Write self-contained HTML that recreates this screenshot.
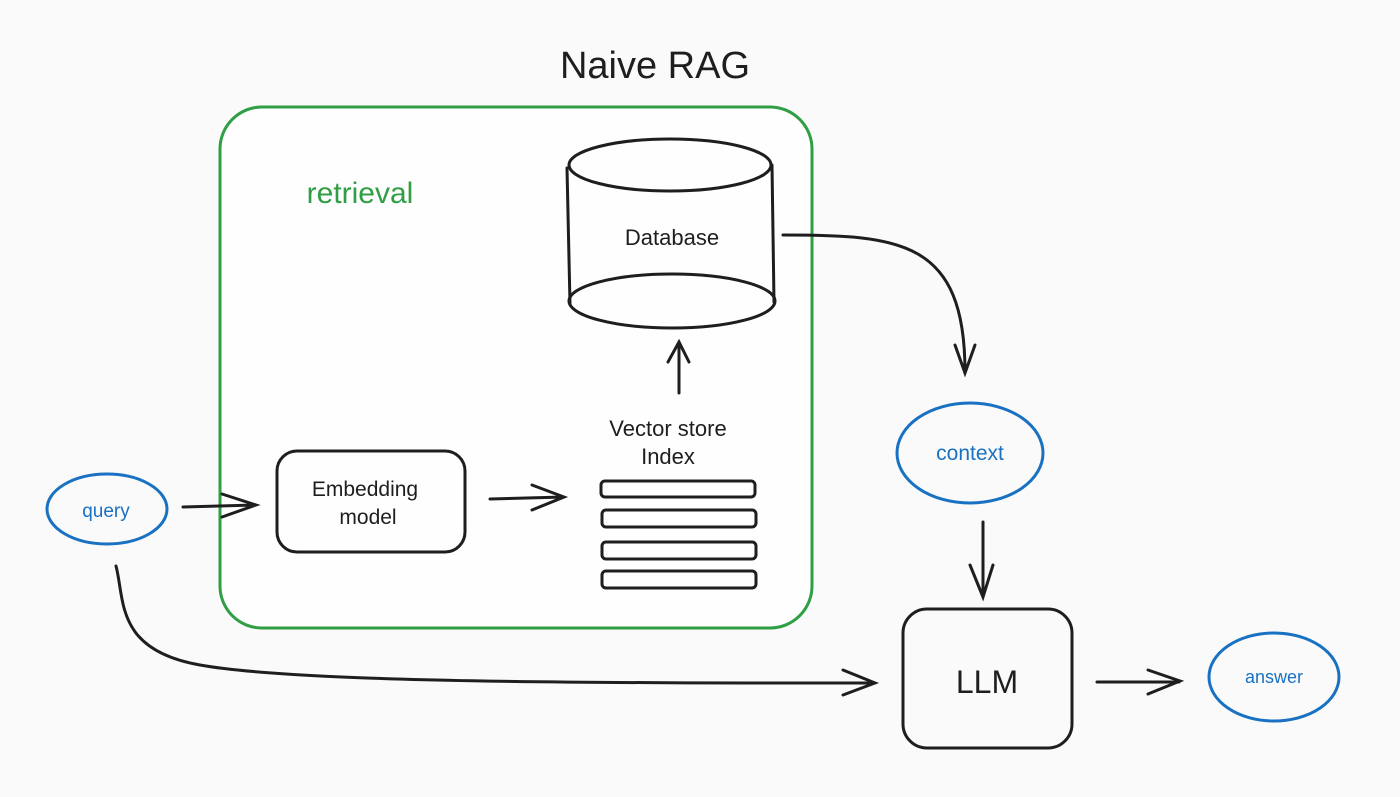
<!DOCTYPE html>
<html><head><meta charset="utf-8"><style>
html,body{margin:0;padding:0;background:#fafafa;}
svg{display:block;}
text{font-family:"Liberation Sans","DejaVu Sans",sans-serif;}
</style></head><body>
<svg width="1400" height="797" viewBox="0 0 1400 797" xmlns="http://www.w3.org/2000/svg">
<rect width="1400" height="797" fill="#fafafa"/>
<text x="655" y="78" font-size="38" text-anchor="middle" fill="#1e1e1e">Naive RAG</text>
<rect x="220" y="107" width="592" height="521" rx="42" fill="#fefefe" stroke="#2f9e44" stroke-width="3"/>
<text x="360" y="203" font-size="30" text-anchor="middle" fill="#2f9e44">retrieval</text>
<g fill="none" stroke="#1e1e1e" stroke-width="3" stroke-linecap="round">
<path d="M567 168 L570 304"/><path d="M772 165 L774 302"/>
<ellipse cx="670" cy="165" rx="101" ry="26"/>
<ellipse cx="672" cy="301" rx="103" ry="27"/>
<path d="M679 393 L679 342 M668 362 L679 342 L689 362"/>
<rect x="601" y="481" width="154" height="16" rx="4"/>
<rect x="602" y="510" width="154" height="17" rx="4"/>
<rect x="602" y="542" width="154" height="17" rx="4"/>
<rect x="602" y="571" width="154" height="17" rx="4"/>
<rect x="277" y="451" width="188" height="101" rx="20"/>
<path d="M183 507 L256 505 M222 494 L256 505 L222 517"/>
<path d="M490 499 L564 497 M532 485 L564 497 L532 510"/>
<path d="M783 235 C900 235 965 240 965 372 M955 345 L965 373 L975 345"/>
<path d="M983 522 L983 597 M970 565 L983 597 L993 565"/>
<rect x="903" y="609" width="169" height="139" rx="24"/>
<path d="M1097 682 L1179 682 M1148 670 L1180 681 L1148 694"/>
<path d="M116 566 C125 600 115 650 200 665 C300 683 600 683 874 683 M843 670 L875 683 L843 695"/>
</g>
<text x="672" y="245" font-size="22" text-anchor="middle" fill="#1e1e1e">Database</text>
<text x="668" y="436" font-size="22" text-anchor="middle" fill="#1e1e1e">Vector store</text>
<text x="668" y="464" font-size="22" text-anchor="middle" fill="#1e1e1e">Index</text>
<text x="365" y="496" font-size="21" text-anchor="middle" fill="#1e1e1e">Embedding</text>
<text x="368" y="524" font-size="21" text-anchor="middle" fill="#1e1e1e">model</text>
<text x="987" y="693" font-size="32" text-anchor="middle" fill="#1e1e1e">LLM</text>
<g fill="none" stroke="#1971c2" stroke-width="3">
<ellipse cx="107" cy="509" rx="60" ry="35"/>
<ellipse cx="970" cy="453" rx="73" ry="50"/>
<ellipse cx="1274" cy="677" rx="65" ry="44"/>
</g>
<text x="106" y="517" font-size="19" text-anchor="middle" fill="#1971c2">query</text>
<text x="970" y="460" font-size="21" text-anchor="middle" fill="#1971c2">context</text>
<text x="1274" y="683" font-size="18" text-anchor="middle" fill="#1971c2">answer</text>
</svg>
</body></html>
